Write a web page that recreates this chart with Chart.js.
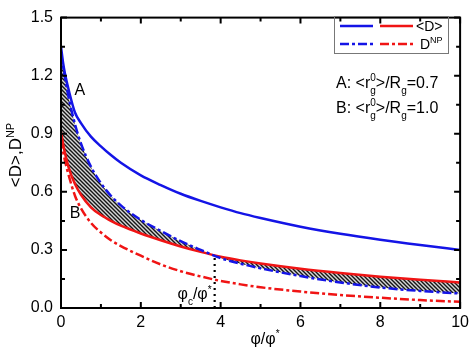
<!DOCTYPE html>
<html>
<head>
<meta charset="utf-8">
<script src="https://cdn.jsdelivr.net/npm/chart.js@4/dist/chart.umd.min.js"></script>
<style>
  html, body { margin: 0; padding: 0; background: #fff; }
  #wrap { width: 474px; height: 349px; }
</style>
</head>
<body>
<div id="wrap"><canvas id="chart" width="474" height="349"></canvas></div>
<script>
// phi / phi* grid shared by all curves
const xs = [0, 0.05, 0.1, 0.2, 0.35, 0.5, 0.75, 1, 1.25, 1.5, 2, 2.5, 3, 3.5, 4, 4.5, 5, 6, 7, 8, 9, 10];
// A: <r_g^0>/R_g = 0.7
const dA   = [1.35, 1.27, 1.21, 1.12, 1.01, 0.955, 0.885, 0.835, 0.79, 0.75, 0.685, 0.635, 0.59, 0.553, 0.52, 0.49, 0.465, 0.42, 0.383, 0.352, 0.325, 0.30];
const dnpA = [1.31, 1.25, 1.19, 1.08, 0.95, 0.85, 0.73, 0.645, 0.58, 0.53, 0.455, 0.398, 0.345, 0.30, 0.258, 0.229, 0.205, 0.165, 0.132, 0.106, 0.088, 0.075];
// B: <r_g^0>/R_g = 1.0
const dB   = [0.91, 0.85, 0.80, 0.72, 0.64, 0.585, 0.52, 0.48, 0.45, 0.425, 0.385, 0.35, 0.318, 0.29, 0.265, 0.246, 0.23, 0.203, 0.181, 0.162, 0.146, 0.132];
const dnpB = [0.87, 0.81, 0.76, 0.68, 0.58, 0.515, 0.44, 0.39, 0.35, 0.32, 0.27, 0.225, 0.19, 0.163, 0.14, 0.122, 0.107, 0.085, 0.067, 0.053, 0.041, 0.032];
// crossing point phi_c / phi*
const phiC = 3.85;
const phiCY = 0.27;

const xTicks = [0, 2, 4, 6, 8, 10];
const yTicks = [0, 0.3, 0.6, 0.9, 1.2, 1.5];

const BLUE = '#1414e6';
const RED = '#f01414';
const FONT = '"Liberation Sans", Arial, sans-serif';
const DASHDOT = [9, 3, 3, 3];

function pts(ys) {
    return xs.map((x, i) => ({ x: x, y: ys[i] }));
}

// diagonal hatch pattern
function makeHatch() {
    const pc = document.createElement('canvas');
    pc.width = 4; pc.height = 4;
    const p = pc.getContext('2d');
    p.fillStyle = '#d6d6d6';
    p.fillRect(0, 0, 4, 4);
    p.strokeStyle = '#151515';
    p.lineWidth = 1.4;
    p.beginPath();
    p.moveTo(-1, -1); p.lineTo(5, 5);
    p.moveTo(-1, 3); p.lineTo(1, 5);
    p.moveTo(3, -1); p.lineTo(5, 1);
    p.stroke();
    return p.createPattern(pc, 'repeat');
}
const ctx = document.getElementById('chart').getContext('2d');
const hatch = makeHatch();

// text with sub/superscripts: parts are [text] or [text, 'sup'|'sub'] or [sub, 'stack', sup]
function richWidth(c, parts, size) {
    let w = 0;
    parts.forEach(p => {
        if (!p[1]) { c.font = size + 'px ' + FONT; w += c.measureText(p[0]).width; }
        else if (p[1] === 'stack') {
            c.font = Math.round(size * 0.65) + 'px ' + FONT;
            w += Math.max(c.measureText(p[0]).width, c.measureText(p[2]).width);
        } else { c.font = Math.round(size * 0.65) + 'px ' + FONT; w += c.measureText(p[0]).width; }
    });
    return w;
}
function richText(c, x, y, parts, size, align) {
    if (align === 'center') x -= richWidth(c, parts, size) / 2;
    c.textAlign = 'left';
    c.textBaseline = 'alphabetic';
    c.fillStyle = '#000';
    const small = Math.round(size * 0.65);
    parts.forEach(p => {
        if (!p[1]) {
            c.font = size + 'px ' + FONT;
            c.fillText(p[0], x, y);
            x += c.measureText(p[0]).width;
        } else if (p[1] === 'stack') {
            c.font = small + 'px ' + FONT;
            c.fillText(p[0], x, y + size * 0.35);
            c.fillText(p[2], x, y - size * 0.42);
            x += Math.max(c.measureText(p[0]).width, c.measureText(p[2]).width);
        } else {
            c.font = small + 'px ' + FONT;
            c.fillText(p[0], x, y + (p[1] === 'sup' ? -size * 0.42 : size * 0.35));
            x += c.measureText(p[0]).width;
        }
    });
}

const framePlugin = {
    id: 'frame',
    afterDatasetsDraw(chart) {
        const c = chart.ctx, a = chart.chartArea;
        const sx = chart.scales.x, sy = chart.scales.y;
        c.save();
        c.strokeStyle = '#000';
        c.lineWidth = 2;
        c.strokeRect(a.left, a.top, a.right - a.left, a.bottom - a.top);
        c.beginPath();
        const tick = (v, len, isX) => {
            if (isX) {
                const px = sx.getPixelForValue(v);
                c.moveTo(px, a.bottom); c.lineTo(px, a.bottom - len);
                c.moveTo(px, a.top); c.lineTo(px, a.top + len);
            } else {
                const py = sy.getPixelForValue(v);
                c.moveTo(a.left, py); c.lineTo(a.left + len, py);
                c.moveTo(a.right, py); c.lineTo(a.right - len, py);
            }
        };
        xTicks.forEach((v, i) => {
            tick(v, 6, true);
            if (i < xTicks.length - 1) tick((v + xTicks[i + 1]) / 2, 4, true);
        });
        yTicks.forEach((v, i) => {
            tick(v, 6, false);
            if (i < yTicks.length - 1) tick((v + yTicks[i + 1]) / 2, 4, false);
        });
        c.stroke();
        c.restore();
    },
    afterDraw(chart) {
        const c = chart.ctx;
        const sx = chart.scales.x, sy = chart.scales.y;
        c.save();
        // axis titles
        richText(c, 265, 344, [['\u03c6/\u03c6'], ['*', 'sup']], 16, 'center');
        c.save();
        c.translate(21, 155);
        c.rotate(-Math.PI / 2);
        richText(c, 0, 0, [['<D>,D'], ['NP', 'sup']], 17, 'center');
        c.restore();
        // curve labels
        richText(c, sx.getPixelForValue(0.47), sy.getPixelForValue(1.1), [['A']], 16, 'center');
        richText(c, sx.getPixelForValue(0.35), sy.getPixelForValue(0.465), [['B']], 16, 'center');
        richText(c, sx.getPixelForValue(2.92), sy.getPixelForValue(0.045), [['\u03c6'], ['c', 'sub'], ['/\u03c6'], ['*', 'sup']], 16, 'left');
        // legend box
        const bx = 334, by = 16, bw = 114, bh = 37;
        c.strokeStyle = '#777';
        c.lineWidth = 1;
        c.strokeRect(bx + 0.5, by + 0.5, bw, bh);
        const seg = (x0, x1, y, col, dash) => {
            c.beginPath();
            c.strokeStyle = col;
            c.lineWidth = 2.5;
            c.setLineDash(dash);
            c.moveTo(x0, y); c.lineTo(x1, y);
            c.stroke();
            c.setLineDash([]);
        };
        seg(340, 373, 26, BLUE, []);
        seg(380, 413, 26, RED, []);
        seg(340, 373, 44, BLUE, DASHDOT);
        seg(380, 413, 44, RED, DASHDOT);
        richText(c, 416, 31, [['<D>']], 14, 'left');
        richText(c, 420, 49, [['D'], ['NP', 'sup']], 14, 'left');
        // parameter notes
        richText(c, 336, 88, [['A: <r'], ['g', 'stack', '0'], ['>/R'], ['g', 'sub'], ['=0.7']], 16, 'left');
        richText(c, 336, 113, [['B: <r'], ['g', 'stack', '0'], ['>/R'], ['g', 'sub'], ['=1.0']], 16, 'left');
        c.restore();
    }
};

const lineBase = {
    pointRadius: 0,
    borderWidth: 2.5,
    cubicInterpolationMode: 'monotone',
    fill: false
};

new Chart(ctx, {
    type: 'line',
    data: {
        datasets: [
            Object.assign({}, lineBase, { label: 'A <D>', data: pts(dA), borderColor: BLUE }),
            Object.assign({}, lineBase, { label: 'A DNP', data: pts(dnpA), borderColor: BLUE, borderDash: DASHDOT }),
            Object.assign({}, lineBase, {
                label: 'B <D>', data: pts(dB), borderColor: RED,
                fill: { target: 1, above: hatch, below: hatch }
            }),
            Object.assign({}, lineBase, { label: 'B DNP', data: pts(dnpB), borderColor: RED, borderDash: DASHDOT }),
            {
                label: 'phi_c', data: [{ x: phiC, y: 0 }, { x: phiC, y: phiCY }],
                borderColor: '#000', borderWidth: 2.2, borderDash: [2, 4], pointRadius: 0, fill: false
            }
        ]
    },
    options: {
        responsive: false,
        animation: false,
        devicePixelRatio: 1,
        layout: { padding: { left: 0, top: 8, right: 9, bottom: 0 } },
        plugins: {
            legend: { display: false },
            tooltip: { enabled: false }
        },
        scales: {
            x: {
                type: 'linear',
                min: 0,
                max: 10,
                grid: { display: false, drawTicks: false },
                border: { display: false },
                ticks: { color: '#000', font: { family: FONT, size: 16 }, padding: 5, maxRotation: 0 },
                afterBuildTicks(scale) { scale.ticks = xTicks.map(v => ({ value: v })); },
                afterFit(scale) { scale.height = 41; }
            },
            y: {
                type: 'linear',
                min: 0,
                max: 1.5,
                grid: { display: false, drawTicks: false },
                border: { display: false },
                ticks: {
                    color: '#000', font: { family: FONT, size: 16 }, padding: 8,
                    callback: v => v.toFixed(1)
                },
                afterBuildTicks(scale) { scale.ticks = yTicks.map(v => ({ value: v })); },
                afterFit(scale) { scale.width = 61; }
            }
        }
    },
    plugins: [framePlugin]
});
</script>
</body>
</html>
